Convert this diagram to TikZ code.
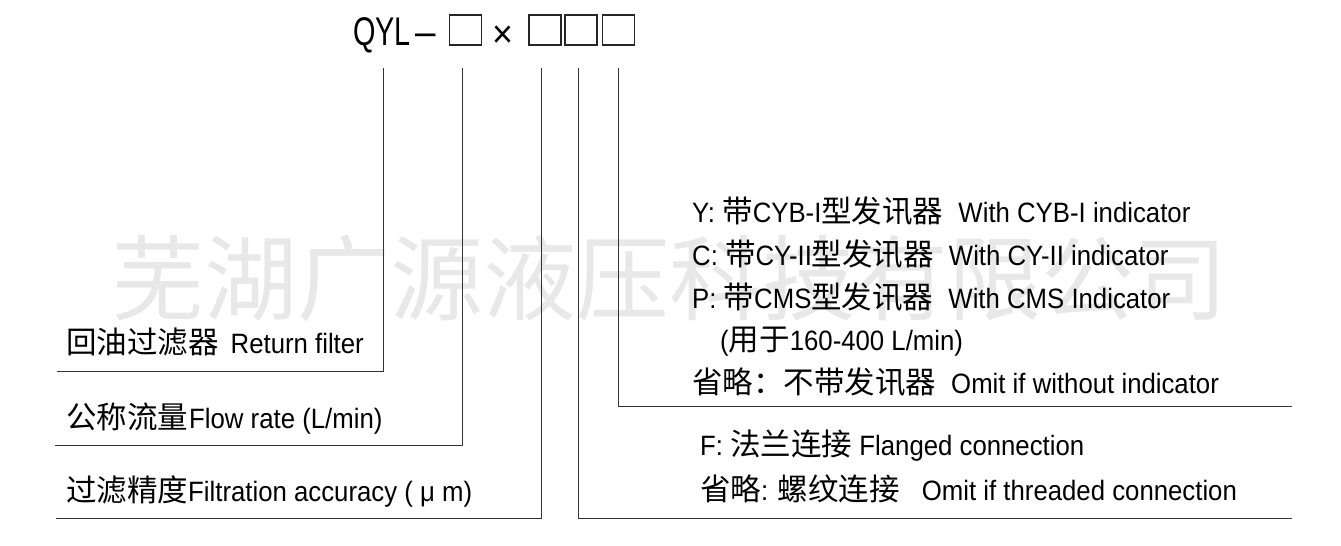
\documentclass[tikz,border=0pt]{standalone}
\usepackage{fontspec}
\setmainfont{Liberation Sans}[FakeStretch=0.92]
\newfontfamily\titlefont{Liberation Sans}[FakeStretch=0.72]
\newfontfamily\zhfont{Noto Sans CJK SC}
\newcommand{\zh}[1]{{\zhfont\fontsize{30.5}{34}\selectfont #1}}
\usetikzlibrary{calc}

\begin{document}
\begin{tikzpicture}[x=1pt,y=-1pt,
    lead/.style={draw=black!80, line width=0.9pt},
    lbl/.style={anchor=base west, inner sep=0pt, font=\fontsize{28}{34}\selectfont},
    slot/.style={draw=black!85, line width=1.2pt, minimum width=32pt, minimum height=30pt, inner sep=0pt}]
    \useasboundingbox (0,0) rectangle (1341,546);

    % watermark
    \node[text=black!9, inner sep=0pt, font=\zhfont\fontsize{93}{100}\selectfont] (wm) at (669,278) {芜湖广源液压科技有限公司};

    % model code
    \node[anchor=base west, inner sep=0pt, font=\titlefont\fontsize{40}{44}\selectfont] (qyl) at (353,45) {QYL};
    \node[anchor=base, inner sep=0pt, font=\fontsize{40}{44}\selectfont] (dash) at (425.5,45) {–};
    \node[slot] (b1) at (465.5,30) {};
    \node[anchor=base, inner sep=0pt, font=\fontsize{39}{44}\selectfont] (times) at (503,47) {×};
    \node[slot] (b2) at (545,30) {};
    \node[slot] (b3) at (581,30) {};
    \node[slot] (b4) at (618.5,30) {};

    % leaders
    \coordinate (v1) at (383,68);
    \coordinate (v2) at (462,68);
    \coordinate (v3) at (541,68);
    \coordinate (v4) at (578,68);
    \coordinate (v5) at (618,68);
    \coordinate (e1) at (57,371);
    \coordinate (e2) at (55,445);
    \coordinate (e3) at (56,518);
    \coordinate (e4) at (1292,518);
    \coordinate (e5) at (1292,406);
    \draw[lead] (v1) |- (e1);
    \draw[lead] (v2) |- (e2);
    \draw[lead] (v3) |- (e3);
    \draw[lead] (v4) |- (e4);
    \draw[lead] (v5) |- (e5);

    % left labels
    \node[lbl] (l1) at (66,353) {\zh{回油过滤器}\hspace{12pt}Return filter};
    \node[lbl] (l2) at (66,428) {\zh{公称流量}\hspace{1pt}Flow rate (L/min)};
    \node[lbl] (l3) at (66,501) {\zh{过滤精度}Filtration accuracy ( μ m)};

    % right labels
    \node[lbl] (r1) at (692,222) {Y: \zh{带}CYB-I\zh{型发讯器}\hspace{15pt}With CYB-I indicator};
    \node[lbl] (r2) at (692,265) {C: \zh{带}CY-II\zh{型发讯器}\hspace{15pt}With CY-II indicator};
    \node[lbl] (r3) at (692,308) {P: \zh{带}CMS\zh{型发讯器}\hspace{15pt}With CMS Indicator};
    \node[lbl] (r4) at (720,350) {(\zh{用于}160-400 L/min)};
    \node[lbl] (r5) at (692,393) {\zh{省略：不带发讯器}\hspace{15pt}Omit if without indicator};
    \node[lbl] (r6) at (700,455) {F: \zh{法兰连接} Flanged connection};
    \node[lbl] (r7) at (700,500) {\zh{省略}: \zh{螺纹连接}\hspace{22pt}Omit if threaded connection};
\end{tikzpicture}
\end{document}
